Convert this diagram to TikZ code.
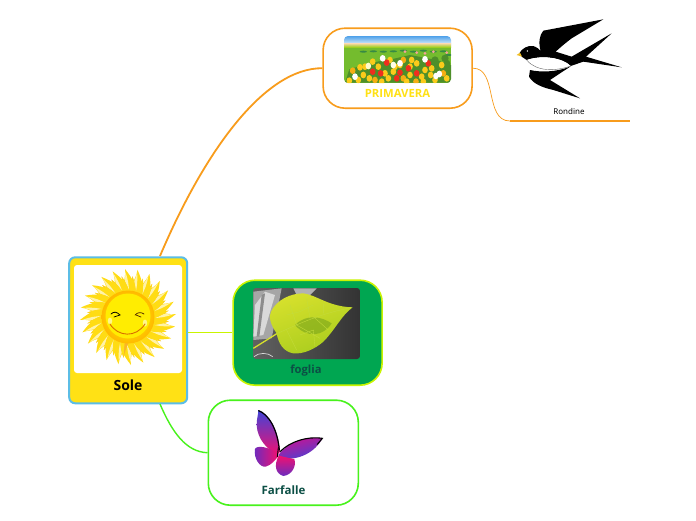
\documentclass[tikz,border=0pt]{standalone}
\usepackage{fontspec}
\setmainfont{Open Sans}
\newfontfamily\regfont{Noto Sans}
\definecolor{sunyellow}{HTML}{FFE115}
\definecolor{skyline}{HTML}{5CBDE6}
\definecolor{orangeline}{HTML}{F89C1C}
\definecolor{limeline}{HTML}{C9F400}
\definecolor{greenline}{HTML}{48F21C}
\definecolor{leafgreen}{HTML}{00A651}
\definecolor{darkteal}{HTML}{0C4F45}
\definecolor{tgreen}{HTML}{74BC2E}
\definecolor{tdark}{HTML}{4E8F2A}
\definecolor{tyellow}{HTML}{FBCB1A}
\definecolor{tdeep}{HTML}{F4AE12}
\definecolor{tred}{HTML}{EE2F1E}
\definecolor{rayorange}{HTML}{F9B528}
\definecolor{rayyellow}{HTML}{FFDC14}
\definecolor{raypale}{HTML}{FFF3A8}
\definecolor{bblue}{HTML}{3F44D8}
\definecolor{bpurple}{HTML}{6A2CC0}
\definecolor{bmag}{HTML}{D2108E}
\definecolor{bpink}{HTML}{F21070}
\definecolor{leafa}{HTML}{D6E02C}
\definecolor{leafb}{HTML}{A8CC1E}
\definecolor{leafc}{HTML}{7FA81C}
\definecolor{leafv}{HTML}{C4DC3C}
\tikzset{
  topic/.style={draw,rounded corners=22pt,line width=1.6pt,anchor=north west,inner sep=0pt},
  boldtext/.style={font=\fontsize{#1}{#1}\selectfont\bfseries,inner sep=0pt,anchor=base},
  link/.style={line width=1.4pt}
}
\begin{document}
\begin{tikzpicture}[x=1pt,y=-1pt]
\useasboundingbox (0,0) rectangle (696,520);
\fill[white] (0,0) rectangle (696,520);

% ---- boxes
\node[draw=skyline,fill=sunyellow,line width=2pt,rounded corners=6pt,anchor=north west,inner sep=0pt,minimum width=118pt,minimum height=146pt] (sole) at (68.2,256.3) {};
\node[topic,draw=orangeline,fill=white,minimum width=149pt,minimum height=80pt] (primavera) at (322.3,27.4) {};
\node[topic,draw=limeline,fill=leafgreen,minimum width=149pt,minimum height=105pt] (foglia) at (232.3,279.4) {};
\node[topic,draw=greenline,fill=white,minimum width=150pt,minimum height=105pt] (farfalle) at (207.5,399.4) {};
\node[anchor=south west,inner sep=0pt,minimum width=120pt,minimum height=16pt] (rondine) at (510,121) {};
\coordinate (soleTop) at (160,256);
\coordinate (soleBottom) at (160,404);

% ---- connectors
\draw[orangeline,line width=1.8pt] (soleTop) .. controls (205,150) and (265,68) .. (primavera.west);
\draw[limeline,link] (sole.east |- foglia.west) -- (foglia.west);
\draw[greenline,link] (soleBottom) .. controls (172,432) and (186,452) .. (farfalle.west);
\draw[orangeline,line width=.7pt] (primavera.east) .. controls (498,68) and (484,121) .. (rondine.south west);
\draw[orangeline,line width=2pt] (rondine.south west) -- (rondine.south east);

% ---- sun picture
\fill[white,rounded corners=3pt] (74,265) rectangle (182,373);
\begin{scope}[shift={(128,317)}]
  \foreach \a in {0,15,...,345}{
    \begin{scope}[rotate=\a]
      \fill[rayyellow] (-8,21) .. controls (-8,32) and (-5,38) .. (3,48) .. controls (2,38) and (6,30) .. (8,21) -- cycle;
      \fill[raypale] (-1,24) .. controls (-1,32) and (0,38) .. (3,46) .. controls (2,38) and (4,31) .. (5,24) -- cycle;
    \end{scope}
    \begin{scope}[rotate=\a+7.5]
      \fill[rayorange] (-5,20) .. controls (-4,28) and (-3,34) .. (1,41) .. controls (1,33) and (4,27) .. (5,20) -- cycle;
      \fill[sunyellow] (-5,20) .. controls (-5,27) and (-3,33) .. (1,41) .. controls (0,33) and (0,27) .. (0,20) -- cycle;
    \end{scope}
  }
  \shade[inner color=yellow!95!orange,outer color=orange!55!yellow] (0,0) circle (26.5);
  \fill[yellow!95!orange] (0,-1) circle (22.5);
  \fill[white,opacity=.55] (-18,4) ellipse (2.2 and 3.5);
  \fill[white,opacity=.55] (17,6) ellipse (2.2 and 3.5);
  \draw[black,line width=.8pt,line cap=round] (-17,-3) .. controls (-14,-6) and (-11,-5) .. (-8,-2);
  \draw[black,line width=.7pt,line cap=round] (-14,0) -- (-8,-2);
  \draw[black!70!orange,line width=.7pt,line cap=round] (7,-2) .. controls (10,-5) and (13,-5) .. (16,-3);
  \draw[black!70!orange,line width=.7pt,line cap=round] (8,-2) -- (13,0);
  \draw[orange!85!black,line width=.9pt,line cap=round] (-18,7) .. controls (-10,20) and (8,21) .. (17,7);
\end{scope}
\node[boldtext=14,text=black] (soleText) at (128,390) {Sole};

% ---- tulip picture
\begin{scope}
  \clip[rounded corners=4pt] (344,36) rectangle (451,83);
  \shade[top color=skyline!85!blue,bottom color=white!85!skyline] (344,36) rectangle (451,45);
  \fill[tgreen] (344,45) rectangle (451,83);
  \shade[top color=white!70!orange,bottom color=tgreen!70!yellow] (344,43) rectangle (451,47);
  \begin{scope}[shift={(310,10)},scale=1/3]
    \foreach \x/\y in {160/125,190/124,220/125,250/124,280/122,310/125,340/122,370/125,400/124,415/135}
      \fill[teal!30!tdark] (\x,\y) ellipse (11 and 3);
    \foreach \x/\y in {285/125,320/128,370/125,345/130,410/128}
      \fill[tred!45!white] (\x,\y) circle (4.5);
    \foreach \x/\y in {385/165,410/160,375/150,405/145}
      \fill[tdark] (\x,\y) circle (11);
    \fill[tdark] (105,218) -- (118,178) .. controls (160,165) and (190,155) .. (235,150) -- (300,135) -- (380,150) -- (423,165) -- (423,218) -- cycle;
    \foreach \x/\y/\c in {
      118/212/tyellow,128/182/tdeep,150/172/tyellow,160/195/tyellow,178/205/tyellow,188/155/tyellow,
      205/170/tyellow,165/170/tyellow,240/150/tyellow,255/170/tyellow,280/150/tdeep,305/150/tyellow,
      235/205/tyellow,250/185/tyellow,280/205/tdeep,300/195/tyellow,340/215/tyellow,345/180/tyellow,
      365/175/tyellow,395/165/tyellow,375/210/tyellow,410/205/tyellow,320/160/tyellow,290/215/tyellow,
      215/215/tyellow,145/210/tyellow,195/210/tdeep,335/200/tyellow,270/165/tyellow,400/190/tdeep,
      318/215/tdeep,225/190/tyellow,362/195/tyellow,300/170/tyellow,
      230/158/tred,188/185/tred,212/190/tred,260/205/tred,295/175/tred,320/190/tred,355/160/tred,270/188/tred,
      218/145/white,270/160/white,388/192/white,135/200/white,378/198/white,345/148/white,250/165/white!90!yellow,175/168/white!80!yellow}
      \fill[\c] (\x,\y) ellipse (8.5 and 10);
  \end{scope}
\end{scope}
\node[boldtext=11.3,text=sunyellow] (primaveraText) at (397.5,97) {PRIMAVERA};

% ---- leaf picture
\begin{scope}
  \clip[rounded corners=3pt] (253,288) rectangle (360,359);
  \shade[left color=black!62,right color=black!80] (253,288) rectangle (360,359);
  \begin{scope}[shift={(200,275)},scale=1/3]
    \fill[black!35] (160,50) -- (245,40) -- (215,190) -- (160,195) -- cycle;
    \fill[black!15] (165,90) -- (195,50) -- (225,60) -- (190,180) -- (160,185) -- cycle;
    \fill[black!45] (185,60) -- (195,55) -- (178,185) -- (170,185) -- cycle;
    \fill[black!30] (280,40) -- (350,40) -- (330,60) -- (290,60) -- cycle;
    \draw[black!15,line width=.7pt] (162,245) .. controls (175,232) and (205,232) .. (218,245);
    \draw[leafa,line width=1.3pt] (160,220) -- (232,175);
    \shade[left color=leafa,right color=leafb,shading angle=20]
      (230,175) .. controls (212,150) and (205,125) .. (213,110)
      .. controls (230,75) and (270,55) .. (310,55)
      .. controls (350,60) and (385,95) .. (458,97)
      .. controls (425,120) and (405,165) .. (370,200)
      .. controls (345,222) and (310,238) .. (280,235)
      .. controls (250,230) and (235,205) .. (230,175) -- cycle;
    \fill[leafc,opacity=.65] (285,150) .. controls (320,115) and (365,125) .. (395,145) .. controls (370,185) and (320,190) .. (285,150) -- cycle;
    \draw[leafv,line width=.35pt]
      (232,175) .. controls (290,150) and (360,115) .. (455,98)
      (290,150) -- (270,90) (330,130) -- (320,70) (370,115) -- (370,85)
      (290,150) -- (360,190) (260,165) -- (290,225) (340,125) -- (385,165)
      (260,120) -- (300,110) -- (340,90) (300,180) -- (340,165) -- (345,215);
  \end{scope}
\end{scope}
\node[boldtext=11.2,text=darkteal] (fogliaText) at (306,373.7) {foglia};

% ---- butterfly picture
\begin{scope}[shift={(200,275)},scale=1/3]
  \shade[top color=bblue,middle color=bmag,bottom color=bpink]
    (175,405) .. controls (205,415) and (235,460) .. (240,530) -- (232,540) .. controls (205,525) and (172,495) .. (170,450) .. controls (170,430) and (175,420) .. (175,405) -- cycle;
  \draw[black,line width=1.2pt,line cap=round] (176,407) .. controls (205,418) and (232,460) .. (238,525);
  \shade[left color=bmag,middle color=bpink,right color=bblue,shading angle=15]
    (235,540) .. controls (265,500) and (320,483) .. (368,490) .. controls (345,530) and (300,558) .. (240,550) -- cycle;
  \draw[black,line width=1.1pt,line cap=round] (240,530) .. controls (270,500) and (320,483) .. (367,490) -- (352,508);
  \shade[right color=bpink,left color=bpurple]
    (234,535) .. controls (205,515) and (170,510) .. (165,522) .. controls (160,550) and (180,578) .. (197,575) .. controls (215,570) and (225,555) .. (234,545) -- cycle;
  \shade[top color=bpink,bottom color=bpurple]
    (236,542) .. controls (222,570) and (225,595) .. (250,603) .. controls (275,600) and (290,575) .. (283,552) .. controls (270,550) and (250,545) .. (236,542) -- cycle;
  \draw[black,line width=.9pt,line cap=round] (235,518) -- (232,545);
\end{scope}
\node[boldtext=11.5,text=darkteal] (farfalleText) at (283.5,494) {Farfalle};

% ---- swallow picture
\begin{scope}[shift={(510,15)},scale=1/3]
  \fill[black] (28,115) .. controls (35,100) and (55,90) .. (70,93) .. controls (80,97) and (88,102) .. (92,108)
    .. controls (85,85) and (88,60) .. (100,47) -- (280,13) -- (185,70) .. controls (165,85) and (150,98) .. (137,110)
    -- (185,125) -- (305,55) -- (228,125) -- (335,157) -- (220,140) -- (182,153)
    .. controls (160,130) and (100,118) .. (50,135) -- (35,125) -- cycle;
  \fill[white] (50,135) .. controls (100,118) and (160,130) .. (182,153) .. controls (140,168) and (80,172) .. (50,135) -- cycle;
  \draw[black!60,line width=.4pt] (50,135) .. controls (80,172) and (140,168) .. (182,153);
  \fill[black] (60,165) .. controls (90,172) and (140,172) .. (182,154) -- (120,195) -- (210,250)
    -- (130,225) .. controls (100,218) and (70,208) .. (57,185) -- cycle;
  \fill[tyellow!80!brown] (20,120) -- (30,113) -- (36,125) -- cycle;
  \fill[white] (52,108) circle (2.5);
\end{scope}
\node[inner sep=0pt,anchor=base,font=\regfont\fontsize{8}{8}\selectfont] (rondineText) at (569,114) {Rondine};
\end{tikzpicture}
\end{document}
